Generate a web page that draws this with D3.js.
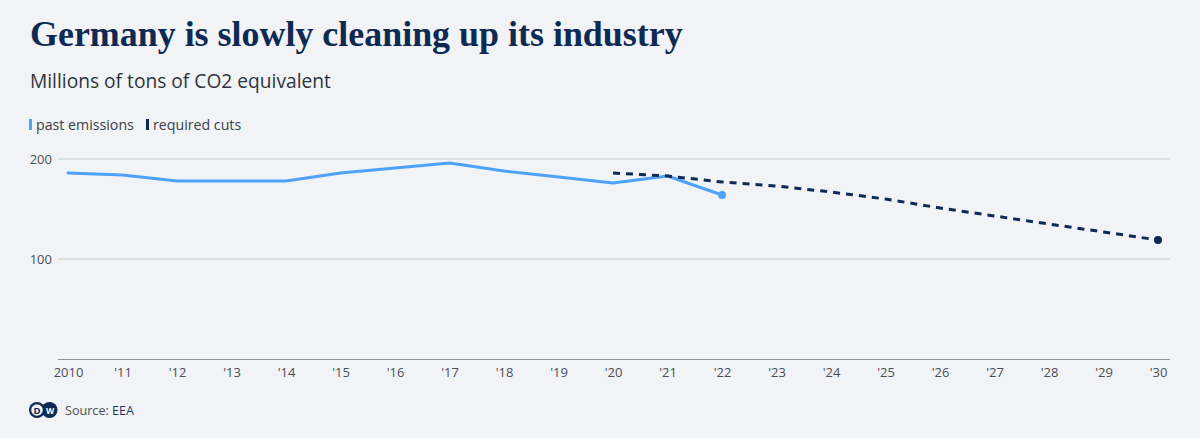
<!DOCTYPE html>
<html><head><meta charset="utf-8">
<script src="https://cdn.jsdelivr.net/npm/d3@7"></script>
<style>
html,body{margin:0;padding:0;background:#f1f3f6;}
svg{display:block;}
</style></head>
<body>
<svg id="c" width="1200" height="438"></svg>
<script>
const years = [2010,2011,2012,2013,2014,2015,2016,2017,2018,2019,2020,2021,2022,2023,2024,2025,2026,2027,2028,2029,2030];
const xTickLabels = ["2010","'11","'12","'13","'14","'15","'16","'17","'18","'19","'20","'21","'22","'23","'24","'25","'26","'27","'28","'29","'30"];
const pastYears = [2010,2011,2012,2013,2014,2015,2016,2017,2018,2019,2020,2021,2022];
const pastEmissions = [186,184,178,178,178,186,191,196,188,182,176,183,164];
const cutYears = [2020,2021,2022,2023,2024,2025,2026,2027,2028,2029,2030];
const requiredCuts = [186,183,177,173,167,160,151,143,135,127,119];
const yTicks = [100,200];

const svg = d3.select("#c");
const W = 1200, H = 438;
svg.append("rect").attr("width",W).attr("height",H).attr("fill","#f1f3f6");

const x = d3.scaleLinear().domain([2010,2030]).range([68,1158]);
const y = d3.scaleLinear().domain([0,200]).range([359,159]);

const sans = "'Open Sans','Noto Sans',sans-serif";

// Title
const title = svg.append("text").attr("x",30).attr("y",46)
  .attr("font-family","'Liberation Serif','DejaVu Serif',serif")
  .attr("font-weight","bold").attr("font-size",35).attr("fill","#0e2a52")
  .text("Germany is slowly cleaning up its industry");
const tl = title.node().getComputedTextLength();
title.attr("font-size", 35 * 653 / tl);

svg.append("text").attr("x",30).attr("y",88)
  .attr("font-family",sans).attr("font-size",19.2).attr("fill","#2f333a")
  .text("Millions of tons of CO2 equivalent");

// Legend
const leg = svg.append("g").attr("font-family",sans).attr("font-size",14.2).attr("fill","#3b4048");
leg.append("rect").attr("x",29).attr("y",119).attr("width",3).attr("height",11).attr("fill","#4da3fa");
leg.append("text").attr("x",36).attr("y",130).text("past emissions");
leg.append("rect").attr("x",146).attr("y",119).attr("width",3).attr("height",11).attr("fill","#0d2a55");
leg.append("text").attr("x",153).attr("y",130).text("required cuts");

// Grid
const grid = svg.append("g");
grid.selectAll("line").data(yTicks).join("line")
  .attr("x1",58).attr("x2",1170).attr("y1",d=>y(d)).attr("y2",d=>y(d))
  .attr("stroke","#c9cdd3").attr("stroke-width",1);
grid.selectAll("text").data(yTicks).join("text")
  .attr("x",52).attr("y",d=>y(d)+5).attr("text-anchor","end")
  .attr("font-family",sans).attr("font-size",13).attr("fill","#4a4f57")
  .text(d=>d);

// x axis
const xAxis = d3.axisBottom(x).tickValues(years).tickSize(0).tickPadding(9)
  .tickFormat((d,i)=>xTickLabels[i]);
const gx = svg.append("g").attr("transform",`translate(0,${y(0)})`).call(xAxis);
gx.select(".domain").attr("d","M58,0.5H1170").attr("stroke","#8d929b").attr("stroke-width",1.2);
gx.selectAll("text").attr("font-family",sans).attr("font-size",13).attr("fill","#4a4f57");

// Lines
const line = d3.line().x(d=>x(d[0])).y(d=>y(d[1]));
const pastData = pastYears.map((yr,i)=>[yr,pastEmissions[i]]);
const cutData = cutYears.map((yr,i)=>[yr,requiredCuts[i]]);

svg.append("path").datum(pastData).attr("d",line)
  .attr("fill","none").attr("stroke","#4da3fa").attr("stroke-width",3)
  .attr("stroke-linejoin","round").attr("stroke-linecap","round");
svg.append("path").datum(cutData).attr("d",line)
  .attr("fill","none").attr("stroke","#0d2a55").attr("stroke-width",3)
  .attr("stroke-dasharray","7,6");

const lastPast = pastData[pastData.length-1];
svg.append("circle").attr("cx",x(lastPast[0])).attr("cy",y(lastPast[1])).attr("r",4).attr("fill","#4da3fa");
const lastCut = cutData[cutData.length-1];
svg.append("circle").attr("cx",x(lastCut[0])).attr("cy",y(lastCut[1])).attr("r",4).attr("fill","#0d2a55");

// Footer logo
const logo = svg.append("g");
logo.append("circle").attr("cx",49.5).attr("cy",410).attr("r",8).attr("fill","#0d2a55");
logo.append("circle").attr("cx",37).attr("cy",410).attr("r",8).attr("fill","#0d2a55");
logo.append("circle").attr("cx",37).attr("cy",410).attr("r",5.8).attr("fill","#f1f3f6");
logo.append("text").attr("x",37).attr("y",413.5).attr("text-anchor","middle")
  .attr("font-family",sans).attr("font-weight","bold").attr("font-size",9.5).attr("fill","#0d2a55").text("D");
logo.append("text").attr("x",50).attr("y",413.5).attr("text-anchor","middle")
  .attr("font-family",sans).attr("font-weight","bold").attr("font-size",8.5).attr("fill","#ffffff").text("W");
const src = svg.append("text").attr("x",65).attr("y",414.5).attr("font-family",sans).attr("font-size",12.6);
src.append("tspan").attr("fill","#4a4f57").text("Source: ");
src.append("tspan").attr("fill","#1d3560").text("EEA");
</script>
</body></html>
